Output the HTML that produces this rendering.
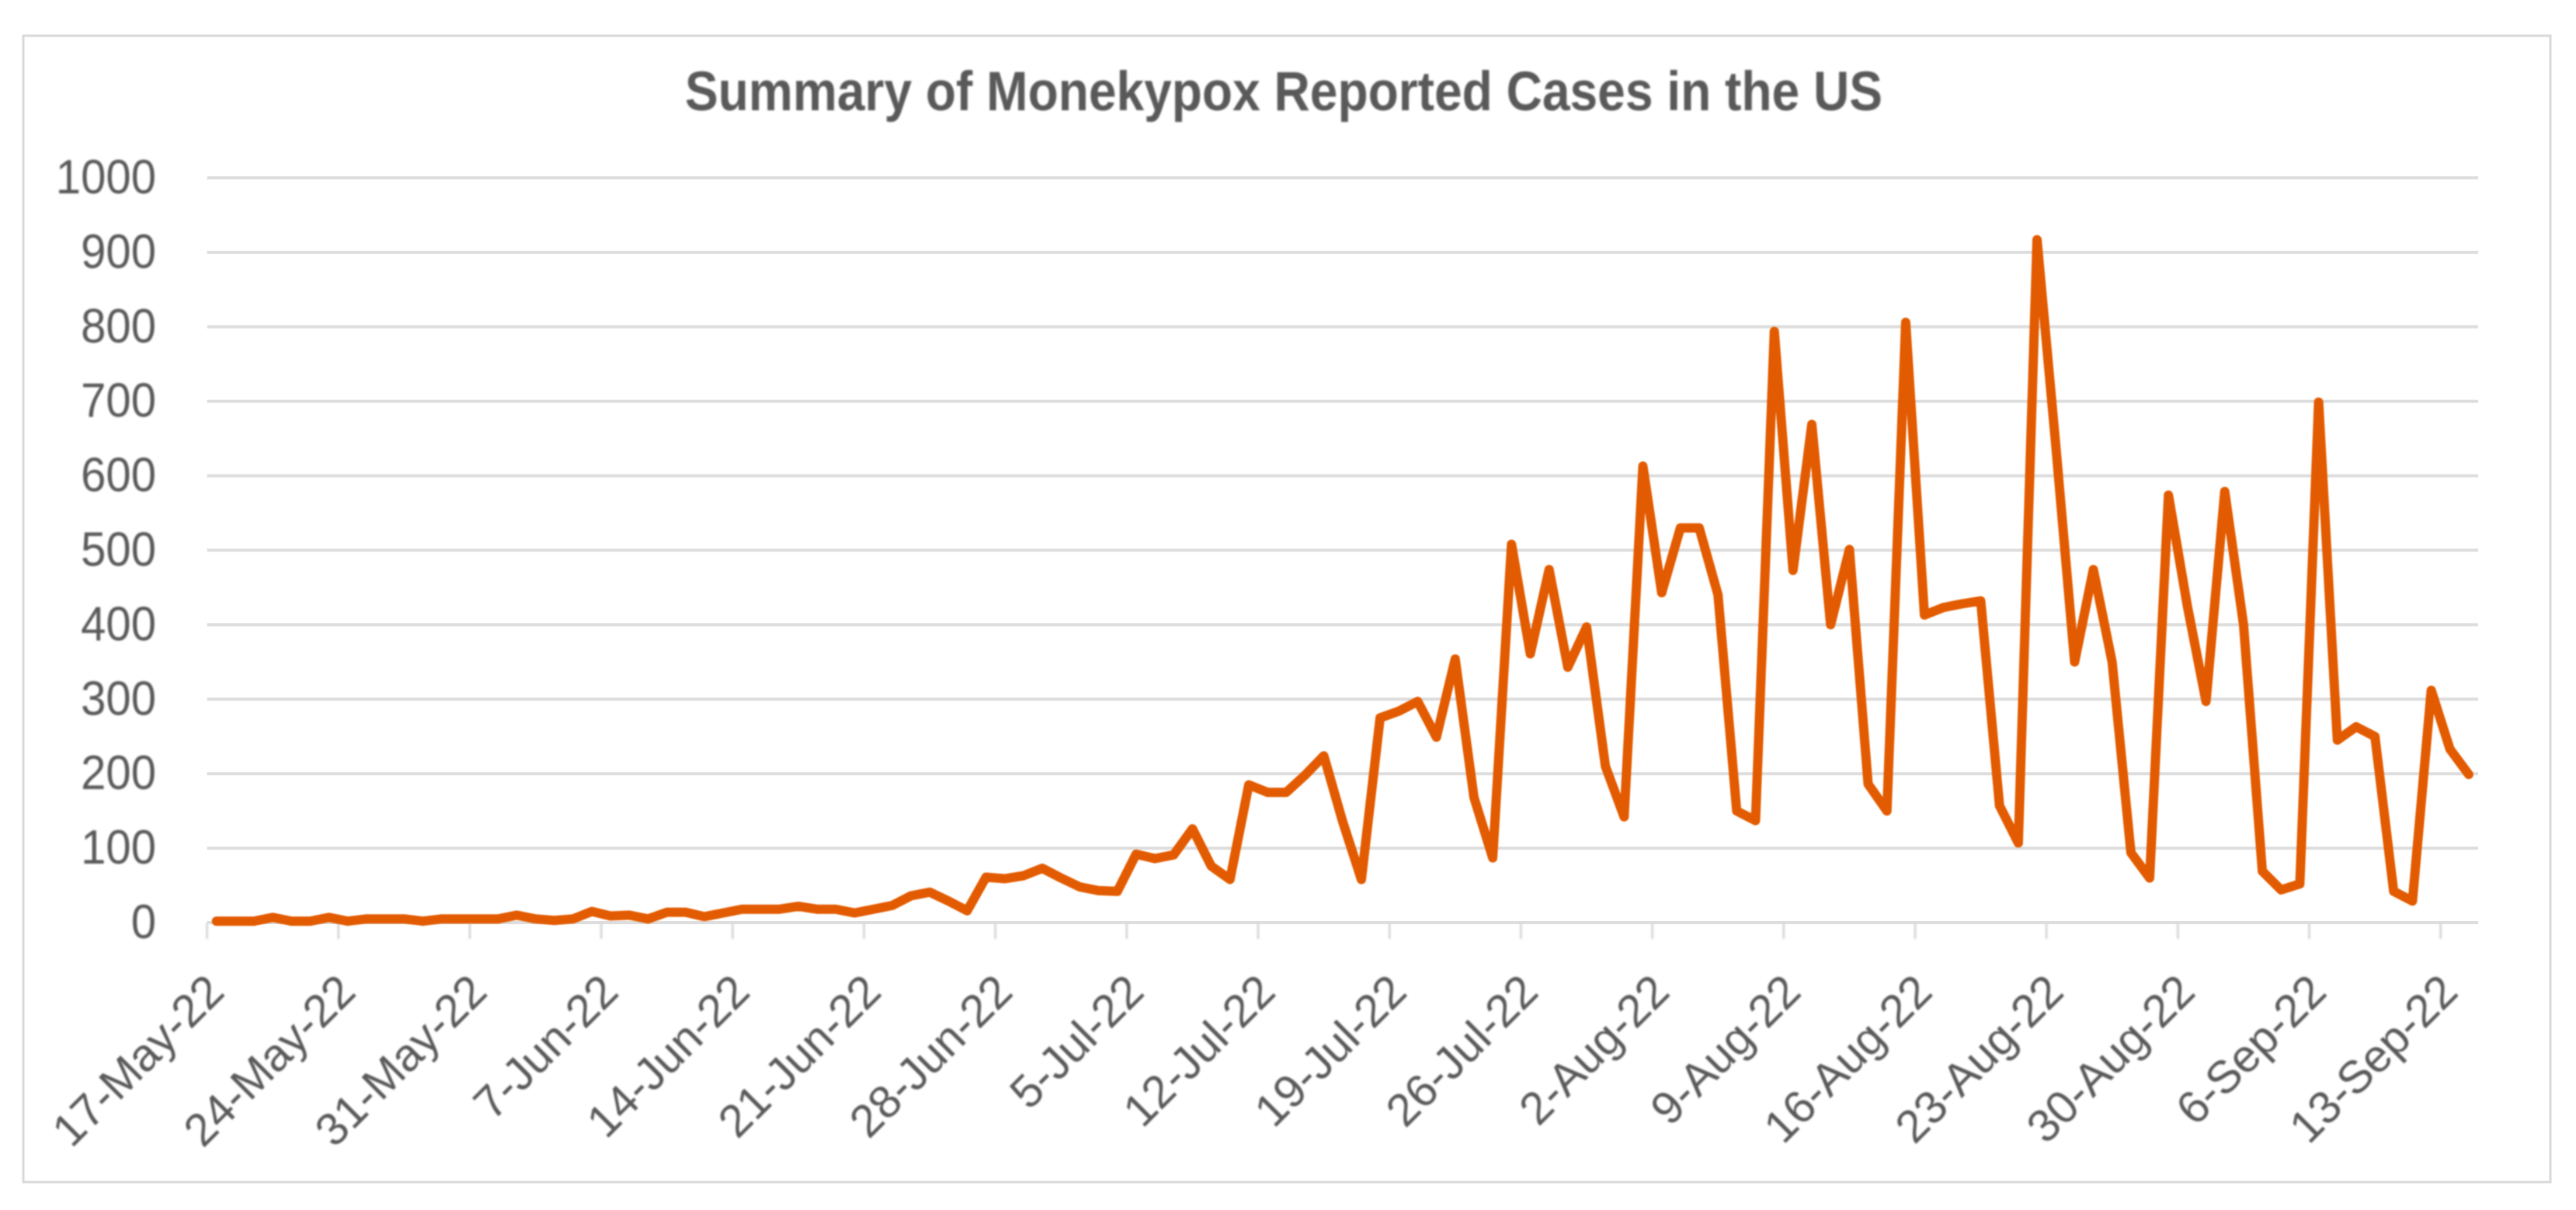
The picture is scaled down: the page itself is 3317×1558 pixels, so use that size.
<!DOCTYPE html>
<html lang="en">
<head>
<meta charset="utf-8">
<title>Summary of Monekypox Reported Cases in the US</title>
<style>
html,body{margin:0;padding:0;background:#fff;}
svg{display:block;}
text{font-family:"Liberation Sans",sans-serif;fill:#595959;}
.soft{filter:blur(1.1px);}
.softline{filter:blur(0.7px);}
</style>
</head>
<body>
<svg id="chart" xmlns="http://www.w3.org/2000/svg" width="3317" height="1558" viewBox="0 0 3317 1558">
  <rect x="30" y="46" width="3254" height="1476" fill="#fff" stroke="#d9d9d9" stroke-width="3"/>
  <text class="soft" x="1653" y="142" text-anchor="middle" font-size="71" font-weight="700" textLength="1542" lengthAdjust="spacingAndGlyphs">Summary of Monekypox Reported Cases in the US</text>
  <g id="grid"></g>
  <g id="yaxis" class="soft"></g>
  <g id="xaxis" class="soft"></g>
  <g id="series" class="softline"></g>
</svg>
<script>
const yTicks = [0,100,200,300,400,500,600,700,800,900,1000];
const xTickLabels = ["17-May-22","24-May-22","31-May-22","7-Jun-22","14-Jun-22","21-Jun-22","28-Jun-22","5-Jul-22","12-Jul-22","19-Jul-22","26-Jul-22","2-Aug-22","9-Aug-22","16-Aug-22","23-Aug-22","30-Aug-22","6-Sep-22","13-Sep-22"];
const casesEarly = [2,2,2,7,2,2,7,2,5,5,5,2,5,5,5,5,10,5,3,5,15,9,10,5,14,14,8,13,18,18,18,22,18,18];
const casesMid = [13,18,23,36,41,29,16,61,59,63,73,60,48,43,42,92,86,91,126,76,58,185,175,175,198,224,136,58,275,284,297,249,354,168];
const casesLate = [87,508,361,474,343,397,210,142,613,443,530,530,440,150,137,794,473,669,400,501,186,150,806,413,423,428,432,157,107,917,640,350,474,350,94,60,574,426,297,579,400,69,44,52,699,245,263,250,42,29,312,233,199];
const cases = casesEarly.concat(casesMid, casesLate);
const tickEvery = 7;

const SVG = "http://www.w3.org/2000/svg";
const plot = {left: 266.6, right: 3191, top: 229, bottom: 1188};
const yMax = 1000;
const catW = (plot.right - plot.left) / cases.length;
const xBand = i => plot.left + i * catW;
const xPoint = i => xBand(i) + catW / 2;
const yScale = v => plot.bottom - (v / yMax) * (plot.bottom - plot.top);
function make(tag, parent, attrs){
  const el = document.createElementNS(SVG, tag);
  for (const k in attrs) el.setAttribute(k, attrs[k]);
  parent.appendChild(el);
  return el;
}
const grid = document.getElementById('grid');
const yaxis = document.getElementById('yaxis');
const xaxis = document.getElementById('xaxis');
const series = document.getElementById('series');

yTicks.forEach(t => {
  const y = yScale(t);
  const line = make('line', grid, {x1: plot.left, x2: plot.right, y1: y, y2: y, stroke: '#dedede', 'stroke-width': 4});
  
  
  const label = make('text', yaxis, {x: 201, y: y + 20, 'text-anchor': 'end', 'font-size': 62, textLength: String(t).length * 32.3, lengthAdjust: 'spacingAndGlyphs'});
  
  
  label.textContent = t;
});

xTickLabels.forEach((lab, n) => {
  const x = xBand(n * tickEvery);
  const tick = make('line', xaxis, {x1: x, x2: x, y1: plot.bottom, y2: plot.bottom + 21, stroke: '#d9d9d9', 'stroke-width': 3});
  
  
  const ax = x + 25, ay = 1280;
  const label = make('text', xaxis, {x: ax, y: ay, 'text-anchor': 'end', 'font-size': 59, transform: 'rotate(-45 ' + ax + ' ' + ay + ')'});
  
  
  label.textContent = lab;
});

const pts = cases.map((v, i) => xPoint(i).toFixed(1) + ',' + yScale(v).toFixed(1)).join(' ');
const path = make('polyline', series, {points: pts, fill: 'none', stroke: '#e35b00', 'stroke-width': 12, 'stroke-linejoin': 'round', 'stroke-linecap': 'round'});


</script>
</body>
</html>
